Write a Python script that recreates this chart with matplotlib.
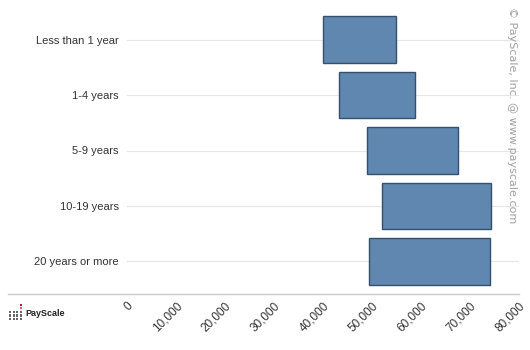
import matplotlib
matplotlib.use("Agg")
import matplotlib.pyplot as plt
from matplotlib.lines import Line2D
from matplotlib.patches import Rectangle

categories = ["Less than 1 year", "1-4 years", "5-9 years", "10-19 years", "20 years or more"]
low_values = [40000, 43300, 49000, 52000, 49400]
high_values = [54900, 58800, 67600, 74300, 74100]
x_ticks = [0, 10000, 20000, 30000, 40000, 50000, 60000, 70000, 80000]
x_tick_labels = ["0", "10,000", "20,000", "30,000", "40,000", "50,000", "60,000", "70,000", "80,000"]

W, H = 530, 350
fig = plt.figure(figsize=(W / 100, H / 100), dpi=100)
fig.patch.set_facecolor("white")

ax = fig.add_axes([127 / W, 1 - 289 / H, 392 / W, 277 / H])
ypos = list(range(len(categories)))
widths = [h - l for l, h in zip(low_values, high_values)]
ax.barh(ypos, widths, left=low_values, height=0.84, color="#5f87b0",
        edgecolor="#34506b", linewidth=1.0, zorder=3)

lab_font = ["Liberation Sans", "DejaVu Sans"]
ax.set_xlim(0, 80000)
ax.set_ylim(len(categories) - 0.5, -0.5)
ax.set_yticks(ypos)
ax.set_yticklabels(categories, fontsize=8, color="#333333", family=lab_font)
ax.set_xticks(x_ticks)
ax.set_xticklabels(x_tick_labels, rotation=45, ha="right", va="top",
                   rotation_mode="anchor", fontsize=8.5, color="#333333", family=lab_font)
ax.tick_params(axis="both", length=0)
ax.tick_params(axis="y", pad=6)
ax.tick_params(axis="x", pad=8)
for s in ax.spines.values():
    s.set_visible(False)
ax.grid(axis="y", color="#e6e6e6", linewidth=0.8, zorder=0)
ax.grid(axis="x", visible=False)

# bottom axis line spanning wider than plot
fig.add_artist(Line2D([8 / W, 519 / W], [1 - 294 / H, 1 - 294 / H],
                      color="#c8c8c8", linewidth=1.0))

# watermark
fig.text(512 / W, 1 - 7 / H, "© PayScale, Inc. @ www.payscale.com", rotation=-90,
         ha="center", va="top", fontsize=8, color="#a0a0a0")

# logo
dsz = 2.2
dot_cols = [10, 13.6, 17.2, 20.8]
for ci, cx in enumerate(dot_cols):
    for r in range(3):
        cy = 319 - r * 3.6
        fig.add_artist(Rectangle(((cx - dsz / 2) / W, 1 - (cy + dsz / 2) / H), dsz / W, dsz / H,
                                 color="#666666", linewidth=0, transform=fig.transFigure))
for r, col in enumerate(["#e0607a", "#c8102e"]):
    cy = 308.2 - r * 3.6
    fig.add_artist(Rectangle(((20.8 - dsz / 2) / W, 1 - (cy + dsz / 2) / H), dsz / W, dsz / H,
                             color=col, linewidth=0, transform=fig.transFigure))
fig.text(25 / W, 1 - 314 / H, "PayScale", fontsize=6.5, fontweight="bold",
         color="#222222", ha="left", va="center", family=lab_font)

fig.savefig("out.png", dpi=100)
